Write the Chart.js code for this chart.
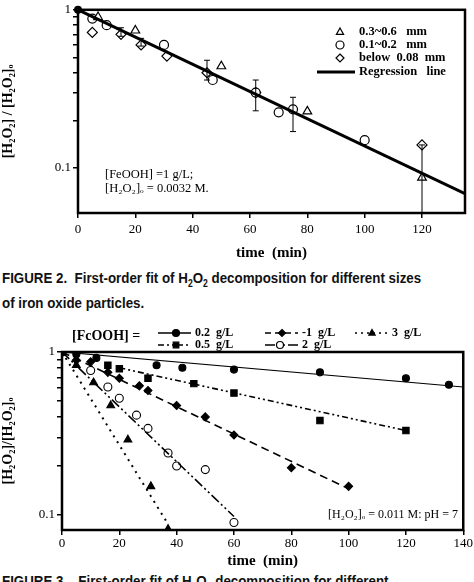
<!DOCTYPE html>
<html><head><meta charset="utf-8">
<script src="https://cdn.jsdelivr.net/npm/chart.js@4"></script>
<style>
body{margin:0;width:474px;height:582px;background:#fff;position:relative;overflow:hidden}
canvas{position:absolute;left:0}
.cap{position:absolute;left:2px;font-family:"Liberation Sans Narrow","Liberation Sans",sans-serif;font-weight:bold;font-size:15.5px;line-height:19px;color:#111;white-space:nowrap;transform:scaleX(0.86);transform-origin:0 0}
</style></head><body>
<div style="position:absolute;left:0;top:0;width:474px;height:262px"><canvas id="c1"></canvas></div>
<div class="cap" style="top:268px">FIGURE 2.&nbsp; First-order fit of H<sub style="font-size:10px">2</sub>O<sub style="font-size:10px">2</sub> decomposition for different sizes<br>of iron oxide particles.</div>
<div style="position:absolute;left:0;top:320px;width:474px;height:250px"><canvas id="c2"></canvas></div>
<div class="cap" style="top:571px">FIGURE 3.&nbsp;&nbsp; First-order fit of H<sub style="font-size:10px">2</sub>O<sub style="font-size:10px">2</sub> decomposition for different</div>
<script>
// ---------- Figure 2 data ----------
const triT=[7,20,50,80,120], triV=[0.90,0.74,0.44,0.228,0.087];
const cirT=[5,10,30,47,62,70,75,100], cirV=[0.88,0.80,0.60,0.36,0.30,0.225,0.235,0.15];
const diaT=[5,15,22,31,45,62,120], diaV=[0.72,0.70,0.60,0.51,0.40,0.30,0.14];
const regT=[0,135], regV=[1,0.069];
const errT=[15,22,45,62,75,120], errLo=[0.68,0.59,0.36,0.23,0.17,0.052], errHi=[0.77,0.66,0.48,0.36,0.28,0.14];
const xTicks1=[0,20,40,60,80,100,120];
// ---------- Figure 3 data ----------
const s02T=[0,5,12,33,42,60,90,120,135], s02V=[1,0.97,0.92,0.83,0.80,0.78,0.75,0.69,0.63];
const s05T=[0,16,20,30,46,60,90,120], s05V=[1,0.83,0.79,0.69,0.64,0.56,0.38,0.33];
const s1T=[0,5,10,16,20,27,30,40,50,60,80,100], s1V=[1,0.89,0.87,0.75,0.69,0.62,0.58,0.47,0.40,0.31,0.195,0.15];
const s2T=[0,10,16,20,26,30,37,40,50,60], s2V=[1,0.77,0.61,0.52,0.41,0.34,0.24,0.20,0.19,0.09];
const s3T=[0,5,11,17,23,31,37], s3V=[1,0.83,0.65,0.47,0.29,0.15,0.082];
const f02T=[0,140], f02V=[1,0.61];
const f05T=[20,120], f05V=[0.80,0.33];
const f1T=[0,100], f1V=[1,0.145];
const f2T=[0,60], f2V=[1,0.098];
const f3T=[0,37], f3V=[1,0.088];
const xTicks2=[0,20,40,60,80,100,120,140];

const pts=(t,v)=>t.map((x,i)=>({x:x,y:v[i]}));
const SERIF='"Liberation Serif","DejaVu Serif",serif';
const logTicks=[0.1,0.2,0.3,0.4,0.5,0.6,0.7,0.8,0.9,1];

const frame={id:'frame',afterDraw(c){const a=c.chartArea,x=c.ctx;x.save();x.strokeStyle='#000';x.lineWidth=2.5;x.strokeRect(a.left,a.top,a.right-a.left,a.bottom-a.top);x.restore();}};

function yAxis(min,w,title,lab1){return {type:'logarithmic',min:min,max:1,
  afterBuildTicks(s){s.ticks=logTicks.filter(v=>v>=min).map(v=>({value:v}));},
  afterFit(s){s.width=w;},
  grid:{display:true,drawOnChartArea:false,tickLength:5,color:'#000',lineWidth:1.5},border:{display:false},
  ticks:{padding:2,color:'#000',font:{family:SERIF,size:13},callback:v=>v===1?'1':(v===0.1?lab1:'')},
  title:{display:true,text:title,color:'#000',font:{family:SERIF,size:14,weight:'bold'},padding:{top:0,bottom:4}}};}
function xAxis(max,ticks,h,tp){return {type:'linear',min:0,max:max,
  afterBuildTicks(s){s.ticks=ticks.map(v=>({value:v}));},
  afterFit(s){s.height=h;},
  grid:{display:true,drawOnChartArea:false,tickLength:5,color:'#000',lineWidth:1.5},border:{display:false},
  ticks:{padding:tp,color:'#000',maxRotation:0,font:{family:SERIF,size:13}},
  title:{display:true,text:'time  (min)',color:'#000',font:{family:SERIF,size:15,weight:'bold'},padding:{top:tp,bottom:0}}};}

function sym(ctx,style,x,y,r,fill){ctx.save();ctx.lineWidth=1.2;ctx.strokeStyle='#000';ctx.fillStyle=fill?'#000':'#fff';ctx.beginPath();
  if(style==='triangle'){ctx.moveTo(x,y-r);ctx.lineTo(x+r*0.9,y+r*0.6);ctx.lineTo(x-r*0.9,y+r*0.6);ctx.closePath();}
  else if(style==='rectRot'){ctx.moveTo(x,y-r);ctx.lineTo(x+r,y);ctx.lineTo(x,y+r);ctx.lineTo(x-r,y);ctx.closePath();}
  else if(style==='rect'){ctx.rect(x-r*0.8,y-r*0.8,r*1.6,r*1.6);}
  else ctx.arc(x,y,r,0,Math.PI*2);
  ctx.fill();ctx.stroke();ctx.restore();}

// ---------- chart 1 ----------
const deco1={id:'deco1',afterDatasetsDraw(c){const ctx=c.ctx,xs=c.scales.x,ys=c.scales.y;ctx.save();ctx.strokeStyle='#000';ctx.lineWidth=1;
  errT.forEach((t,i)=>{const x=xs.getPixelForValue(t),y1=ys.getPixelForValue(errLo[i]),y2=ys.getPixelForValue(errHi[i]);ctx.beginPath();ctx.moveTo(x,y1);ctx.lineTo(x,y2);ctx.moveTo(x-3,y2);ctx.lineTo(x+3,y2);ctx.moveTo(x-3,y1);ctx.lineTo(x+3,y1);ctx.stroke();});
  ctx.fillStyle='#000';ctx.beginPath();ctx.arc(xs.getPixelForValue(0),ys.getPixelForValue(1),4,0,Math.PI*2);ctx.fill();
  ctx.font='bold 12.5px '+SERIF;ctx.textBaseline='middle';
  const L=[['triangle','0.3~0.6   mm',32],['circle','0.1~0.2   mm',45],['rectRot','below  0.08  mm',58]];
  L.forEach(l=>{sym(ctx,l[0],340,l[2],4,false);ctx.fillStyle='#000';ctx.fillText(l[1],359,l[2]);});
  ctx.lineWidth=3;ctx.beginPath();ctx.moveTo(317,72);ctx.lineTo(355,72);ctx.stroke();ctx.fillText('Regression   line',359,72);
  ctx.font='12.5px '+SERIF;ctx.fillText('[FeOOH] =1 g/L;',105,175);ctx.fillText('[H₂O₂]ₒ = 0.0032 M.',105,189);
  ctx.restore();}};
new Chart(document.getElementById('c1'),{type:'scatter',
 data:{datasets:[
  {data:pts(regT,regV),showLine:true,borderColor:'#000',borderWidth:3,pointRadius:0},
  {data:pts(triT,triV),pointStyle:'triangle',pointRadius:5,borderColor:'#000',backgroundColor:'#fff',borderWidth:1.2},
  {data:pts(cirT,cirV),pointStyle:'circle',pointRadius:4.5,borderColor:'#000',backgroundColor:'#fff',borderWidth:1.2},
  {data:pts(diaT,diaV),pointStyle:'rectRot',pointRadius:5,borderColor:'#000',backgroundColor:'#fff',borderWidth:1.2}]},
 options:{responsive:true,maintainAspectRatio:false,animation:false,layout:{padding:{top:8,right:9,left:0}},
  plugins:{legend:{display:false},tooltip:{enabled:false}},
  scales:{x:xAxis(135,xTicks1,49,4),y:yAxis(0.052,78,'[H₂O₂] / [H₂O₂]ₒ','0.1')}},
 plugins:[frame,deco1]});

// ---------- chart 2 ----------
const deco2={id:'deco2',afterDraw(c){const ctx=c.ctx;ctx.save();ctx.fillStyle='#000';ctx.strokeStyle='#000';ctx.textBaseline='middle';
  ctx.font='bold 14px '+SERIF;ctx.fillText('[FcOOH] =',72,16);
  ctx.font='bold 12px '+SERIF;
  const E=[[158,13,[],'circle',true,'0.2  g/L',176],[158,25,[6,3,2,3,2,3],'rect',true,'0.5  g/L',176],[265,13,[6,4],'rectRot',true,'-1  g/L',282],[265,25,[10,3,2,3,2,3],'circle',false,'2  g/L',280],[355,13,[2,4],'triangle',true,'3  g/L',372]];
  E.forEach(e=>{ctx.lineWidth=1.3;ctx.setLineDash(e[2]);ctx.beginPath();ctx.moveTo(e[0],e[1]);ctx.lineTo(e[0]+33,e[1]);ctx.stroke();ctx.setLineDash([]);sym(ctx,e[3],e[6],e[1],3.5,e[4]);ctx.fillStyle='#000';ctx.fillText(e[5],e[0]+37,e[1]);});
  ctx.font='12px '+SERIF;ctx.textAlign='right';ctx.fillText('[H₂O₂]ₒ = 0.011 M: pH = 7',458,195);
  ctx.restore();}};
function ser(t,v,st,fill,r){return {data:pts(t,v),pointStyle:st,pointRadius:r||4,borderColor:'#000',backgroundColor:fill?'#000':'#fff',borderWidth:1.1};}
function fit(t,v,dash,w){return {data:pts(t,v),showLine:true,borderColor:'#000',borderWidth:w||1.3,borderDash:dash,pointRadius:0};}
new Chart(document.getElementById('c2'),{type:'scatter',
 data:{datasets:[
  fit(f02T,f02V,[],1.2),fit(f05T,f05V,[6,3,2,3,2,3],1.6),fit(f1T,f1V,[8,5],1.6),fit(f2T,f2V,[10,3,2,3,2,3],1.6),fit(f3T,f3V,[2,5],2),
  ser(s02T,s02V,'circle',true,3.5),ser(s05T,s05V,'rect',true,4.5),ser(s1T,s1V,'rectRot',true,4),ser(s2T,s2V,'circle',false,4),ser(s3T,s3V,'triangle',true,4.5)]},
 options:{responsive:true,maintainAspectRatio:false,animation:false,layout:{padding:{top:32,right:9,left:0,bottom:0}},
  plugins:{legend:{display:false},tooltip:{enabled:false}},
  scales:{x:xAxis(140,xTicks2,40,1),y:yAxis(0.081,62,'[H₂O₂]/[H₂O₂]ₒ','0.1')}},
 plugins:[frame,deco2]});
</script></body></html>
